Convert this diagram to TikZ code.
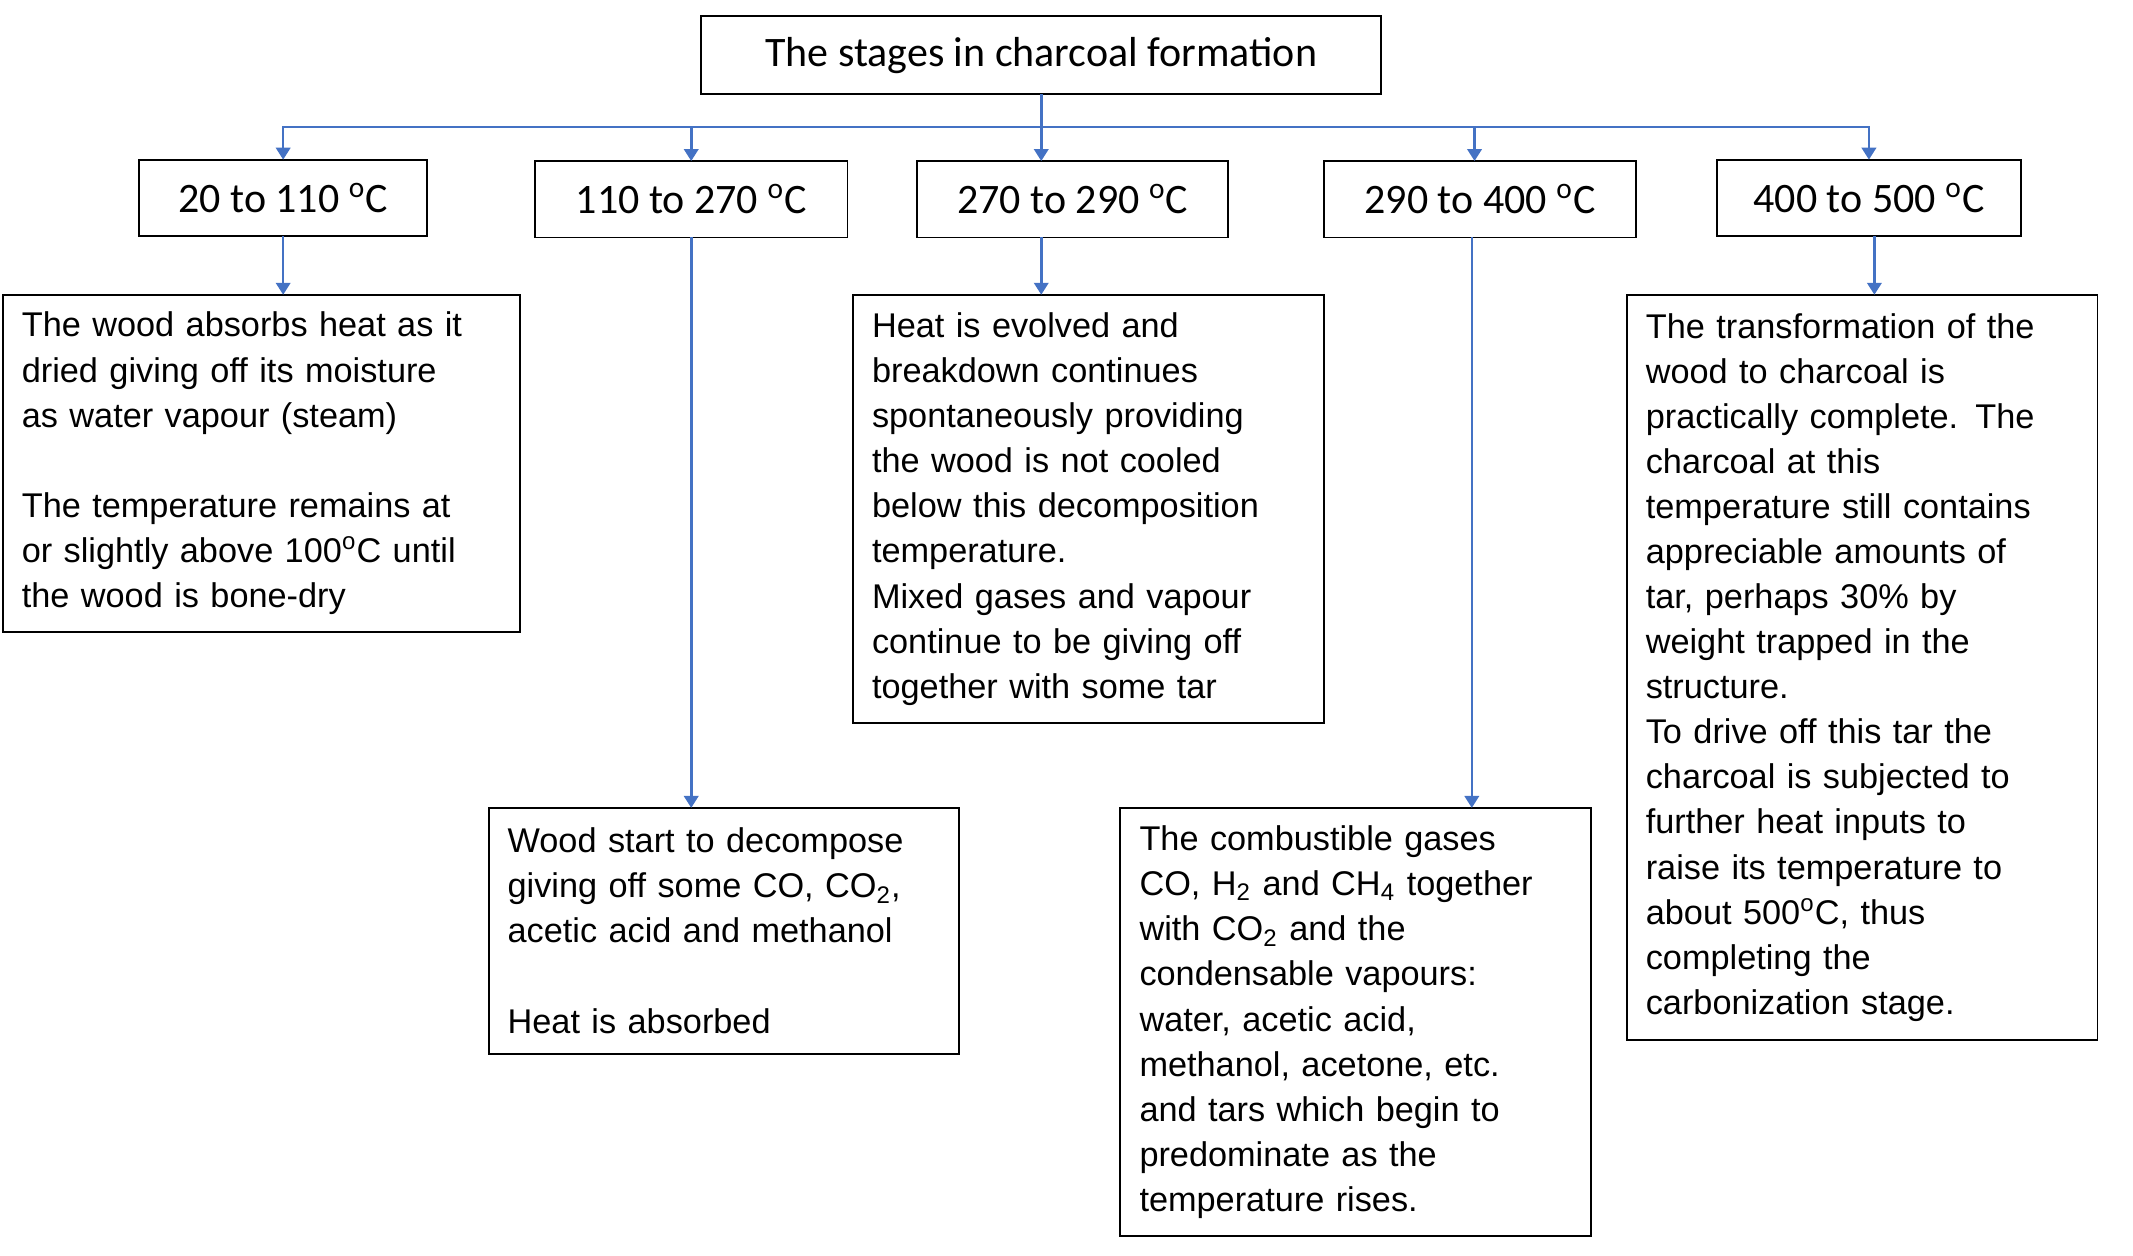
\documentclass[tikz,border=0pt]{standalone}
\usepackage{fontspec}
\setmainfont{Liberation Sans}
\newfontfamily\headfont{Carlito}
\usetikzlibrary{arrows.meta}
\usetikzlibrary{positioning}

\begin{document}
\begin{tikzpicture}[
    x=0.02cm,
    y=-0.02cm,
    box/.style={
        draw,line width=0.8pt,inner sep=0pt,outer sep=0pt
    },
    head/.style={
        box,align=center,font=\headfont\fontsize{17.5}{21}\selectfont
    },
    stage/.style={
        box,anchor=north west,align=left,inner xsep=0.28cm,
        font=\fontsize{14.3}{18.8}\selectfont
    },
    flow/.style={
        draw={rgb,255:red,68;green,114;blue,196},line width=1.1pt,
        -{Triangle[width=6pt,length=5pt]}
    }
]
    \useasboundingbox (0,0) rectangle (1563,920);

    % title and the five temperature ranges
    \node[head,minimum width=498*0.02cm,minimum height=57*0.02cm] (title)
        at (763,40.5) {The stages in charcoal formation};
    \node[head,minimum width=211*0.02cm,minimum height=56*0.02cm] (range1)
        at (207.5,145) {20 to 110 \textsuperscript{o}C};
    \node[head,minimum width=229*0.02cm,minimum height=56*0.02cm] (range2)
        at (506.5,146) {110 to 270 \textsuperscript{o}C};
    \node[head,minimum width=228*0.02cm,minimum height=56*0.02cm] (range3)
        at (786,146) {270 to 290 \textsuperscript{o}C};
    \node[head,minimum width=229*0.02cm,minimum height=56*0.02cm] (range4)
        at (1084.5,146) {290 to 400 \textsuperscript{o}C};
    \node[head,minimum width=223*0.02cm,minimum height=56*0.02cm] (range5)
        at (1369.5,145) {400 to 500 \textsuperscript{o}C};

    % what happens in each range
    \node[stage,text width=351*0.02cm,minimum height=247*0.02cm] (dry)
        at (2,216) {The wood absorbs heat as it\\dried giving off its moisture\\
        as water vapour (steam)\\[18.8pt]The temperature remains at\\
        or slightly above 100\textsuperscript{o}C until\\the wood is bone-dry};
    \node[stage,text width=317*0.02cm,minimum height=180*0.02cm] (decompose)
        at (358,592) {Wood start to decompose\\giving off some CO, CO\textsubscript{2},\\
        acetic acid and methanol\\[18.8pt]Heat is absorbed};
    \node[stage,text width=317*0.02cm,minimum height=314*0.02cm] (evolve)
        at (625,216) {Heat is evolved and\\breakdown continues\\
        spontaneously providing\\the wood is not cooled\\below this decomposition\\
        temperature.\\Mixed gases and vapour\\continue to be giving off\\
        together with some tar};
    \node[stage,text width=317*0.02cm,minimum height=314*0.02cm] (gases)
        at (821,592) {The combustible gases\\CO, H\textsubscript{2} and CH\textsubscript{4} together\\
        with CO\textsubscript{2} and the\\condensable vapours:\\water, acetic acid,\\
        methanol, acetone, etc.\\and tars which begin to\\predominate as the\\
        temperature rises.};
    \node[stage,text width=317*0.02cm,minimum height=546*0.02cm] (charcoal)
        at (1192,216) {The transformation of the\\wood to charcoal is\\
        practically complete. The\\charcoal at this\\temperature still contains\\
        appreciable amounts of\\tar, perhaps 30\% by\\weight trapped in the\\
        structure.\\To drive off this tar the\\charcoal is subjected to\\
        further heat inputs to\\raise its temperature to\\about 500\textsuperscript{o}C, thus\\
        completing the\\carbonization stage.};

    % connectors
    \coordinate (bus) at (763,93);
    \draw[flow,-] (title.south) -- (bus);
    \draw[flow] (bus) -| (range1.north);
    \draw[flow] (bus) -| (range2.north);
    \draw[flow] (title.south) -- (title.south |- range3.north);
    \draw[flow] (bus) -| ([xshift=-4*0.02cm]range4.north);
    \draw[flow] (bus) -| (range5.north);

    \draw[flow] (range1.south) -- (range1.south |- dry.north);
    \draw[flow] (range2.south) -- (range2.south |- decompose.north);
    \draw[flow] (title.south |- range3.south) -- (title.south |- evolve.north);
    \draw[flow] ([xshift=-6*0.02cm]range4.south)
        -- ([xshift=-6*0.02cm]range4.south |- gases.north);
    \draw[flow] ([xshift=4*0.02cm]range5.south)
        -- ([xshift=4*0.02cm]range5.south |- charcoal.north);
\end{tikzpicture}
\end{document}
